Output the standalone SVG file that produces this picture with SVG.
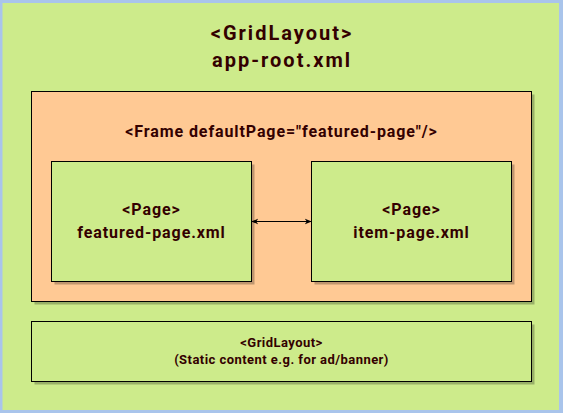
<svg xmlns="http://www.w3.org/2000/svg" width="563" height="413" viewBox="0 0 563 413">
<style>
.t{font-family:Roboto,"Liberation Sans",sans-serif;font-weight:bold;fill:#330000;text-anchor:middle}
.h1{font-size:20px;letter-spacing:2px}
.h2{font-size:16px;letter-spacing:0.9px}
.h3{font-size:13px;letter-spacing:0.45px}
.box{stroke:#000;stroke-width:1}
.sh{fill:#000;fill-opacity:0.25}
</style>
<defs>
<marker id="ah" viewBox="0 0 10 10" refX="9" refY="5" markerWidth="7" markerHeight="7" orient="auto-start-reverse" markerUnits="userSpaceOnUse">
<path d="M0,1 L10,5 L0,9 L3,5 Z" fill="#000"/>
</marker>
</defs>
<rect x="0" y="0" width="563" height="413" fill="#a9c4eb"/>
<g id="root">
<rect x="2.5" y="3" width="556.5" height="407" fill="#cdeb8b"/>
<text class="t h1" x="282" y="40">&lt;GridLayout&gt;</text>
<text class="t h1" x="282" y="66.5">app-root.xml</text>
</g>
<g id="frame">
<rect class="sh" x="34.5" y="94.5" width="500" height="210"/>
<rect class="box" x="31.5" y="91.5" width="500" height="210" fill="#ffc994"/>
<text class="t h2" x="281.5" y="137">&lt;Frame defaultPage="featured-page"/&gt;</text>
</g>
<g id="featured">
<rect class="sh" x="54.5" y="164.5" width="200" height="120"/>
<rect class="box" x="51.5" y="161.5" width="200" height="120" fill="#cdeb8b"/>
<text class="t h2" x="151.5" y="215">&lt;Page&gt;</text>
<text class="t h2" x="151.5" y="237.5">featured-page.xml</text>
</g>
<g id="item">
<rect class="sh" x="314.5" y="164.5" width="200" height="120"/>
<rect class="box" x="311.5" y="161.5" width="200" height="120" fill="#cdeb8b"/>
<text class="t h2" x="411.5" y="215">&lt;Page&gt;</text>
<text class="t h2" x="411.5" y="237.5">item-page.xml</text>
</g>
<g id="banner">
<rect class="sh" x="34.5" y="324.5" width="500" height="60"/>
<rect class="box" x="31.5" y="321.5" width="500" height="60" fill="#cdeb8b"/>
<text class="t h3" x="281.5" y="347">&lt;GridLayout&gt;</text>
<text class="t h3" x="281.5" y="363.5">(Static content e.g. for ad/banner)</text>
</g>
<g id="connectors">
<line x1="252" y1="221.5" x2="311" y2="221.5" stroke="#000" stroke-width="1" marker-start="url(#ah)" marker-end="url(#ah)"/>
</g>
</svg>
